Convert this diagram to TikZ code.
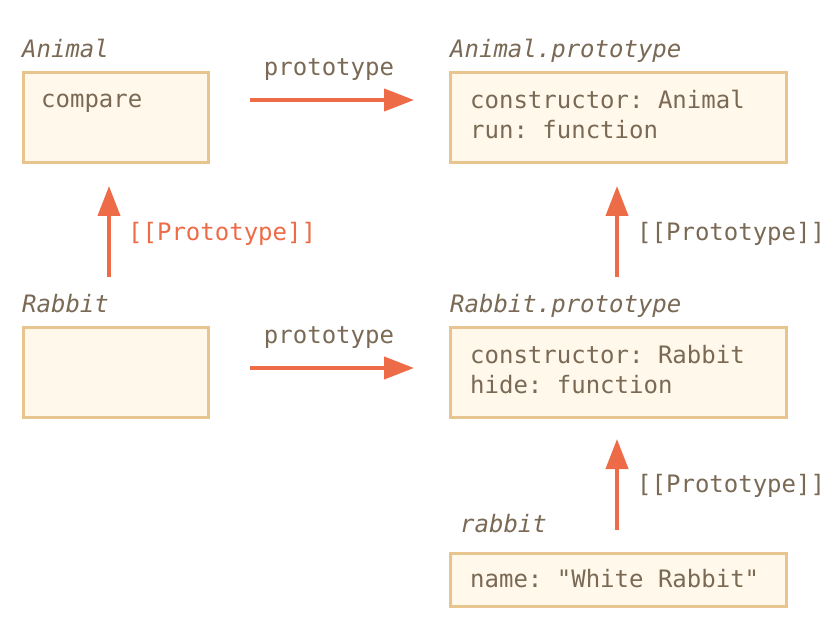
\documentclass[tikz,border=0pt]{standalone}
\usepackage{fontspec}
\setmonofont{DejaVu Sans Mono}
\usetikzlibrary{arrows.meta}
\definecolor{boxfill}{HTML}{FFF8EB}
\definecolor{boxline}{HTML}{E8C48E}
\definecolor{txt}{HTML}{7A6A55}
\definecolor{arr}{HTML}{EE6B47}
\begin{document}
\begin{tikzpicture}[x=1pt,y=-1pt,
  obj/.style={draw=boxline,fill=boxfill,line width=3pt},
  ttl/.style={anchor=base west,font=\ttfamily\itshape\fontsize{24}{28}\selectfont,text=txt,inner sep=0},
  body/.style={anchor=base west,font=\ttfamily\fontsize{24}{30}\selectfont,text=txt,inner sep=0},
  lab/.style={font=\ttfamily\fontsize{24}{28}\selectfont,text=txt,inner sep=0},
  link/.style={draw=arr,line width=4pt,-{Triangle[length=30pt,width=22pt]}}]
\useasboundingbox (0,0) rectangle (840,636);
\fill[white] (0,0) rectangle (840,636);
% boxes
\draw[obj] (23,73) rectangle (208,163);
\draw[obj] (450,73) rectangle (786,163);
\draw[obj] (23,327) rectangle (208,417);
\draw[obj] (450,327) rectangle (786,417);
\draw[obj] (450,553) rectangle (786,606);
% titles
\node[ttl] (tA) at (22,58) {Animal};
\node[ttl] (tAP) at (450,58) {Animal.prototype};
\node[ttl] (tR) at (22,312) {Rabbit};
\node[ttl] (tRP) at (450,312) {Rabbit.prototype};
\node[ttl] (tr) at (460,532) {rabbit};
% bodies
\node[body] (bA) at (41,108) {compare};
\node[body] (bAP1) at (470,109) {constructor: Animal};
\node[body] (bAP2) at (470,139) {run: function};
\node[body] (bRP1) at (470,363) {constructor: Rabbit};
\node[body] (bRP2) at (470,393) {hide: function};
\node[body] (br) at (470,587) {name: "White Rabbit"};
% arrows
\coordinate (h1a) at (250,100); \coordinate (h1b) at (414,100);
\coordinate (h2a) at (250,368); \coordinate (h2b) at (414,368);
\coordinate (v1a) at (109,277); \coordinate (v1b) at (109,186);
\coordinate (v2a) at (617,277); \coordinate (v2b) at (617,186);
\coordinate (v3a) at (617,530); \coordinate (v3b) at (617,439);
\draw[link] (h1a) -- (h1b);
\draw[link] (h2a) -- (h2b);
\draw[link] (v1a) -- (v1b);
\draw[link] (v2a) -- (v2b);
\draw[link] (v3a) -- (v3b);
\node[lab] (l1) at (329,70) {prototype};
\node[lab] (l2) at (329,338) {prototype};
\node[lab,text=arr,anchor=west] (l3) at (128,234) {[[Prototype]]};
\node[lab,anchor=west] (l4) at (637,234) {[[Prototype]]};
\node[lab,anchor=west] (l5) at (637,486) {[[Prototype]]};
\end{tikzpicture}
\end{document}
